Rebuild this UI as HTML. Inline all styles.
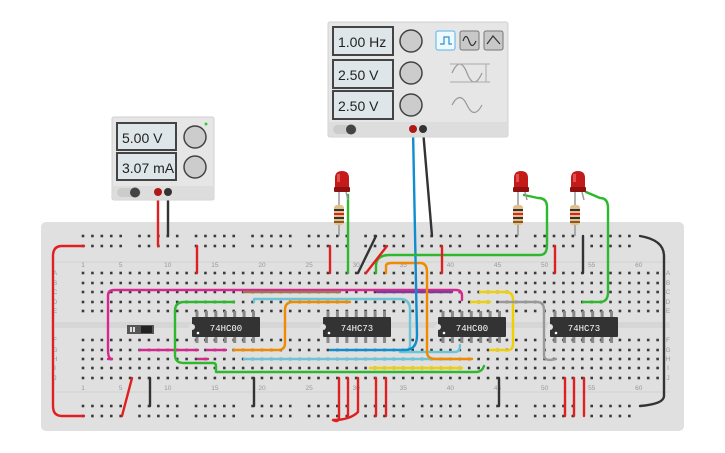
<!DOCTYPE html>
<html><head><meta charset="utf-8"><style>
html,body{margin:0;padding:0;background:#fff;}
svg{display:block;font-family:"Liberation Sans",sans-serif;}
</style></head><body>
<svg id="s" width="725" height="453" viewBox="0 0 725 453" xmlns="http://www.w3.org/2000/svg">
<rect x="41" y="222" width="643" height="209" rx="5" fill="#e0e0e0"/>
<line x1="55" y1="262" x2="670" y2="262" stroke="#d2d2d2"/>
<line x1="55" y1="392" x2="670" y2="392" stroke="#d2d2d2"/>
<line x1="55" y1="325" x2="670" y2="325" stroke="#d6d6d6" stroke-width="6"/>
<g id="dots" fill="#3a3a3a"></g>
<g id="labels" font-size="6.5" fill="#999"></g>
<g id="ics"></g>
<rect x="127" y="325" width="27" height="9" fill="#555"/>
<rect x="141" y="326" width="11" height="7" fill="#222"/>
<rect x="130" y="327" width="2" height="5" fill="#ddd"/><rect x="133" y="327" width="2" height="5" fill="#ddd"/>
<g fill="none" stroke-width="2.4" stroke-linecap="round" stroke-linejoin="round">
<path d="M108 359 H112 Q108 359 108 350 V296 Q108 290 114 290 H456 Q462 290 462 296 V300" stroke="#d6268f"/>
<path d="M140 350 H198 M207 350 H226 M198 359 H208" stroke="#d6268f"/>
<path d="M377 292 H452" stroke="#7a3d99"/>
<path d="M244 292 H340" stroke="#a07850"/>
<path d="M254 302 V299 H400 Q410 299 410 310 V345 Q410 352 400 352 H455 Q460 352 460 345" stroke="#6cc5d6"/>
<path d="M244 359 H452" stroke="#6cc5d6"/>
<path d="M234 302 H184 Q175 302 175 311 V355 Q175 363 184 363 H213 Q216 363 216 366 V372 H476 Q482 372 484 366" stroke="#2eb82e"/>
<path d="M234 350 H278 Q285 350 285 343 V310 Q285 302 293 302 H350" stroke="#f08a00"/>
<path d="M386 273 V266 Q386 263 392 263 H420 Q427 263 427 272 V352 Q427 359 436 359 H472" stroke="#f08a00"/>
<path d="M413 130 L417 335 Q417 350 405 350 H330" stroke="#0e8ecf"/>
<path d="M370 368 H462" stroke="#f0d000"/>
<path d="M471 302 H490 M480 292 H506 Q513 292 513 300 V343 Q513 352 505 350 H490" stroke="#f0d000"/>
<path d="M500 302 H537 Q544 302 544 310 V355 Q544 362 556 359" stroke="#999"/>
<path d="M583 302 H600 Q608 302 608 292 V208 Q608 198 600 198 L586 192" stroke="#2eb82e"/>
<path d="M376 273 V266 Q376 255 390 255 H540 Q547 255 547 245 V207 Q547 198 538 198 L524 195" stroke="#2eb82e"/>
<path d="M348 195 V273" stroke="#2eb82e"/>
<path d="M158 192 V246 M197 246 V273 M330 246 V273 M387 246 L366 273 M442 246 V273 M555 246 V273" stroke="#e02020"/>
<path d="M84 246 H62 Q53 246 53 256 V406 Q53 416 62 416 H84" stroke="#e02020"/>
<path d="M132 378 L122 416" stroke="#e02020"/>
<path d="M339 378 V417 Q339 423 333 420 Q350 420 358 412 V378 M348 378 V416 M376 378 V416 M386 378 V416 M565 378 V416 M574 378 V416 M584 378 V416" stroke="#e02020"/>
<path d="M168 192 V236 M376 236 L358 273 M423 130 L432 236 M583 236 V273 M150 378 V406 M254 378 V406 M499 378 V406" stroke="#333"/>
<path d="M640 236 Q664 240 664 256 V396 Q664 404 640 406" stroke="#333"/>
</g>
<g id="leds"></g>
<rect x="112" y="117" width="102" height="83" rx="2" fill="#e6e6e6" stroke="#d0d0d0"/>
<rect x="117" y="123" width="59" height="27" fill="#dfe6ea" stroke="#444" stroke-width="2"/>
<rect x="117" y="153" width="59" height="27" fill="#dfe6ea" stroke="#444" stroke-width="2"/>
<text x="122" y="143" font-size="14" fill="#222">5.00 V</text>
<text x="122" y="173" font-size="14" fill="#222">3.07 mA</text>
<circle cx="195" cy="137" r="11" fill="#ccc" stroke="#444" stroke-width="1.5"/>
<circle cx="195" cy="167" r="11" fill="#ccc" stroke="#444" stroke-width="1.5"/>
<circle cx="206" cy="124" r="1.5" fill="#3c3"/>
<rect x="113" y="186" width="100" height="13" fill="#ddd"/>
<rect x="117" y="188" width="24" height="9" rx="4.5" fill="#ccc"/><circle cx="135" cy="192.5" r="5" fill="#444"/>
<circle cx="158" cy="192" r="4" fill="#b01818"/><circle cx="168" cy="192" r="4" fill="#333"/>
<rect x="328" y="22" width="180" height="115" rx="2" fill="#e6e6e6" stroke="#d0d0d0"/>
<rect x="333" y="27" width="60" height="28" fill="#dfe6ea" stroke="#444" stroke-width="2"/>
<rect x="333" y="60" width="60" height="28" fill="#dfe6ea" stroke="#444" stroke-width="2"/>
<rect x="333" y="91" width="60" height="28" fill="#dfe6ea" stroke="#444" stroke-width="2"/>
<text x="338" y="47" font-size="14" fill="#222">1.00 Hz</text>
<text x="338" y="80" font-size="14" fill="#222">2.50 V</text>
<text x="338" y="111" font-size="14" fill="#222">2.50 V</text>
<circle cx="411" cy="41" r="11" fill="#ccc" stroke="#444" stroke-width="1.5"/>
<circle cx="411" cy="73" r="11" fill="#ccc" stroke="#444" stroke-width="1.5"/>
<circle cx="411" cy="105" r="11" fill="#ccc" stroke="#444" stroke-width="1.5"/>
<rect x="436" y="31" width="19" height="19" rx="2" fill="#eef8ff" stroke="#5ab4e6"/>
<rect x="460" y="31" width="19" height="19" rx="2" fill="#c8c8c8" stroke="#777"/>
<rect x="484" y="31" width="19" height="19" rx="2" fill="#c8c8c8" stroke="#777"/>
<path d="M440 44 H444 V37 H449 V44 H452" fill="none" stroke="#2a8fd0" stroke-width="1.2"/>
<path d="M463 41 Q466 32 469 41 T476 41" fill="none" stroke="#333" stroke-width="1.2"/>
<path d="M487 44 L493 36 L500 44" fill="none" stroke="#333" stroke-width="1.2"/>
<path d="M452 73 Q460 55 467 73 T482 73" fill="none" stroke="#999" stroke-width="1.2"/>
<path d="M450 64 H490 M450 82 H490 M486 64 V82" stroke="#aaa" fill="none"/>
<path d="M452 105 Q460 90 467 105 T482 105" fill="none" stroke="#999" stroke-width="1.2"/>
<rect x="329" y="122" width="178" height="14" fill="#ddd"/>
<rect x="333" y="125" width="24" height="9" rx="4.5" fill="#ccc"/><circle cx="351" cy="129.5" r="5" fill="#444"/>
<circle cx="413" cy="129" r="4" fill="#b01818"/><circle cx="423" cy="129" r="4" fill="#333"/>
</svg>
<script>
function X(c){return 83+(c-1)*9.42;}
var d=document.getElementById('dots'),h='';
var rows=[273,283,292,302,311,340,350,359,368,378];
for(var c=1;c<=62;c++)for(var r=0;r<10;r++)h+='<rect x="'+(X(c)-1.3)+'" y="'+(rows[r]-1.3)+'" width="2.6" height="2.6"/>';
var rails=[236,246,406,416];
for(var g=0;g<10;g++)for(var k=0;k<5;k++){var c=1+g*6+k;for(var r=0;r<4;r++)h+='<rect x="'+(X(c)-1.3)+'" y="'+(rails[r]-1.3)+'" width="2.6" height="2.6"/>';}
d.innerHTML=h;
var l='';[1,5,10,15,20,25,30,35,40,45,50,55,60].forEach(function(n){l+='<text x="'+X(n)+'" y="267" text-anchor="middle">'+n+'</text><text x="'+X(n)+'" y="390" text-anchor="middle">'+n+'</text>';});
'ABCDEFGHIJ'.split('').forEach(function(ch,i){l+='<text x="55" y="'+(rows[i]+2)+'" text-anchor="middle">'+ch+'</text><text x="668" y="'+(rows[i]+2)+'" text-anchor="middle">'+ch+'</text>';});
document.getElementById('labels').innerHTML=l;
var ic='';[[192,'74HC00'],[323,'74HC73'],[438,'74HC00'],[550,'74HC73']].forEach(function(a){var x=a[0];
for(var i=0;i<7;i++){var px=x+5+i*9.42;ic+='<rect x="'+(px-1.5)+'" y="311" width="3" height="7" fill="#888"/><rect x="'+(px-1.5)+'" y="336" width="3" height="7" fill="#888"/>';}
ic+='<rect x="'+x+'" y="317" width="68" height="20" rx="1" fill="#333"/><circle cx="'+x+'" cy="327" r="3" fill="#e0e0e0"/><circle cx="'+(x+6)+'" cy="333" r="1.3" fill="#fff"/><text x="'+(x+34)+'" y="331" font-family="Liberation Mono,monospace" font-size="9" fill="#fff" text-anchor="middle">'+a[1]+'</text>';});
document.getElementById('ics').innerHTML=ic;
var le='';[342,521,578].forEach(function(x){le+='<line x1="'+(x-3)+'" y1="192" x2="'+(x-3)+'" y2="236" stroke="#999" stroke-width="1.5"/><line x1="'+(x+4)+'" y1="192" x2="'+(x+6)+'" y2="200" stroke="#999" stroke-width="1.5"/>'+
'<rect x="'+(x-8)+'" y="205" width="10" height="20" rx="3" fill="#e3c08a"/><rect x="'+(x-8)+'" y="209" width="10" height="2" fill="#333"/><rect x="'+(x-8)+'" y="213" width="10" height="2" fill="#d22"/><rect x="'+(x-8)+'" y="217" width="10" height="2" fill="#333"/><rect x="'+(x-8)+'" y="221" width="10" height="2" fill="#8a5a20"/>'+
'<path d="M'+(x-7)+' 188 V178 Q'+(x-7)+' 171 '+x+' 171 Q'+(x+7)+' 171 '+(x+7)+' 178 V188 Z" fill="#c41a1a"/><rect x="'+(x-8)+'" y="187" width="16" height="5" rx="1" fill="#8e1010"/><rect x="'+(x-5)+'" y="174" width="3" height="8" fill="#e05050"/>';});
document.getElementById('leds').innerHTML=le;
</script>
</body></html>
